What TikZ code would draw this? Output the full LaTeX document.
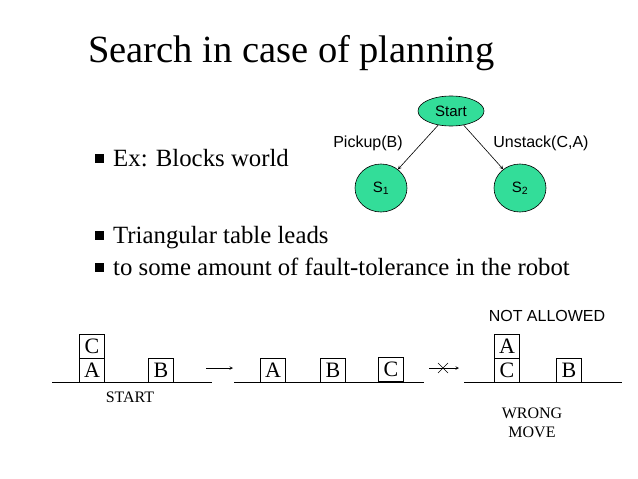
\documentclass[tikz,border=0pt]{standalone}
\usepackage{fontspec}
\usetikzlibrary{shapes.geometric}
\setmainfont{Liberation Serif}
\newfontfamily\arial{Liberation Sans}
\begin{document}
\begin{tikzpicture}[x=1pt,y=-1pt,
  blk/.style={draw,line width=0.8pt,minimum width=25pt,minimum height=24pt,inner sep=0pt,font=\fontsize{22}{22}\selectfont},
  st/.style={draw,fill={rgb,255:red,51;green,221;blue,153},line width=0.6pt,font=\arial\fontsize{15}{15}\selectfont},
  lab/.style={font=\arial\fontsize{16}{16}\selectfont},
  txt/.style={anchor=base west,font=\fontsize{24.8}{25}\selectfont,inner sep=0pt},
  bul/.style={fill=black,minimum size=9pt,inner sep=0pt},
  arr/.style={-stealth,line width=0.6pt}]
\useasboundingbox (0,0) rectangle (638,479);
\node[anchor=base west,inner sep=0pt,font=\fontsize{38.5}{39}\selectfont] (title) at (88,62) {Search in case of planning};
\node[bul] (b1) at (99,158) {}; \node[txt] (t1) at (113,166) {Ex: Blocks world};
\node[bul] (b2) at (99,235) {}; \node[txt] (t2) at (113,243) {Triangular table leads};
\node[bul] (b3) at (99,267) {}; \node[txt] (t3) at (113,275) {to some amount of fault-tolerance in the robot};
% graph
\node[st,ellipse,minimum width=66pt,minimum height=30pt] (start) at (451,111) {Start};
\node[st,ellipse,minimum width=52pt,minimum height=48pt] (s1) at (381,188) {S\textsubscript{1}};
\node[st,ellipse,minimum width=52pt,minimum height=48pt] (s2) at (520,188) {S\textsubscript{2}};
\draw[arr] (start) -- (s1);
\draw[arr] (start) -- (s2);
\node[lab] (l1) at (368,143) {Pickup(B)};
\node[lab] (l2) at (541,143) {Unstack(C,A)};
% blocks 1
\draw[line width=0.8pt] (52,382) coordinate (g1a) -- (212,382) coordinate (g1b);
\node[blk] (c1) at (92,346) {C};
\node[blk] (a1) at (92,370) {A};
\node[blk] (bb1) at (161,370) {B};
\node[font=\fontsize{16}{16}\selectfont] (startl) at (130,397) {START};
% blocks 2
\draw[line width=0.8pt] (234,382) coordinate (g2a) -- (424,382) coordinate (g2b);
\node[blk] (a2) at (273,370) {A};
\node[blk] (bb2) at (333,370) {B};
\node[blk] (c2) at (391,369) {C};
% blocks 3
\draw[line width=0.8pt] (464,382) coordinate (g3a) -- (622,382) coordinate (g3b);
\node[blk] (a3) at (507,346) {A};
\node[blk] (c3) at (507,370) {C};
\node[blk] (bb3) at (569,370) {B};
\node[lab] (na) at (547,316) {NOT ALLOWED};
\node[font=\fontsize{16}{16}\selectfont,align=center] (wm) at (532,423) {WRONG\\[3pt]MOVE};
% arrows
\coordinate (p1) at (206,368); \coordinate (p2) at (233,368);
\coordinate (q1) at (429,368); \coordinate (q2) at (459,368);
\draw[arr] (p1) -- (p2);
\draw[arr] (q1) -- (q2);
\coordinate (x) at (443,368);
\draw[line width=0.6pt] ([shift={(-5,-5)}]x) -- ([shift={(5,5)}]x) ([shift={(-5,5)}]x) -- ([shift={(5,-5)}]x);
\end{tikzpicture}
\end{document}
